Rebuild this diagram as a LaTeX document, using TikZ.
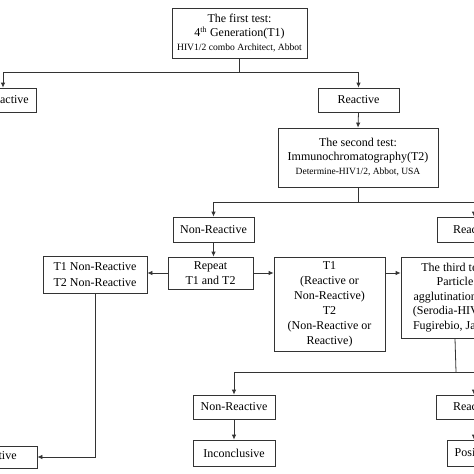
\documentclass[tikz,border=0pt]{standalone}
\usepackage{fontspec}
\setmainfont{Liberation Serif}
\usetikzlibrary{arrows.meta}
\begin{document}
\begin{tikzpicture}[x=1pt,y=-1pt,
  box/.style={draw=black!80, line width=0.8pt, inner sep=0pt, align=center, font=\fontsize{12}{14}\selectfont},
  arr/.style={draw=black!80, line width=0.8pt, -{Latex[length=5pt,width=4.5pt]}},
  ln/.style={draw=black!80, line width=0.8pt}]
\useasboundingbox (0,0) rectangle (474,474);
\clip (0,0) rectangle (474,474);
% nodes
\node[box, minimum width=135pt, minimum height=50pt] (t1) at (239.5,33)
  {The first test:\\4\textsuperscript{th} Generation(T1)\\{\fontsize{9.6}{12}\selectfont HIV1/2 combo Architect, Abbot}};
\node[box, minimum width=81pt, minimum height=24pt] (ltop) at (-4.5,100) {Non-Reactive};
\node[box, minimum width=81pt, minimum height=24pt] (re) at (358.5,100) {Reactive};
\node[box, minimum width=160pt, minimum height=59pt] (s2) at (358,157.5)
  {The second test:\\Immunochromatography(T2)\\{\fontsize{9.5}{12}\selectfont Determine-HIV1/2, Abbot, USA}};
\node[box, minimum width=81pt, minimum height=25pt] (nr1) at (213.5,229.5) {Non-Reactive};
\node[box, minimum width=74pt, minimum height=25pt] (rr1) at (474,229.5) {Reactive};
\node[box, minimum width=85pt, minimum height=32pt, font=\fontsize{12}{15.5}\selectfont] (rep) at (210.5,273) {Repeat\\T1 and T2};
\node[box, minimum width=104pt, minimum height=37pt, font=\fontsize{12}{16}\selectfont] (lm) at (95,274.5) {T1 Non-Reactive\\T2 Non-Reactive};
\node[box, minimum width=111pt, minimum height=94pt, font=\fontsize{12}{15}\selectfont] (mid) at (329.5,304)
  {T1\\(Reactive or\\Non-Reactive)\\T2\\(Non-Reactive or\\Reactive)};
\node[box, minimum width=108pt, minimum height=81pt, font=\fontsize{12}{14.5}\selectfont] (th) at (455,297.5)
  {The third test:\\Particle\\agglutination test\\(Serodia-HIV1/2,\\Fugirebio, Japan)};
\node[box, minimum width=82pt, minimum height=24pt] (nr2) at (234,407) {Non-Reactive};
\node[box, minimum width=76pt, minimum height=24pt] (rr2) at (474,407) {Reactive};
\node[box, minimum width=82pt, minimum height=26pt] (inc) at (234,453) {Inconclusive};
\node[box, minimum width=54pt, minimum height=26pt] (pos) at (474,453) {Positive};
\node[box, minimum width=84pt, minimum height=22pt] (lbot) at (-5,457) {Negative};
% connectors
\coordinate (j1) at (239.5,72);
\draw[ln] (t1.south) -- (j1);
\draw[arr] (j1) -| ([xshift=7.5pt]ltop.north);
\draw[arr] (j1) -| (re.north);
\draw[arr] (re.south) -- (s2.north);
\coordinate (j2) at (358,202);
\draw[ln] (s2.south) -- (j2);
\draw[arr] (j2) -| (nr1.north);
\draw[arr] (j2) -| (rr1.north);
\draw[arr] (nr1.south) -- (rep.north -| nr1.south);
\draw[arr] (rep.west) -- (rep.west -| lm.east);
\draw[arr] (rep.east) -- (rep.east -| mid.west);
\draw[arr] (rep.east -| mid.east) -- (rep.east -| th.west);
\draw[arr] (lm.south) |- (lbot.east);
\coordinate (j3) at (456,372);
\draw[ln] (th.south) -- (j3);
\draw[arr] (j3) -| (nr2.north);
\draw[arr] (j3) -| (rr2.north);
\draw[arr] (nr2.south) -- (inc.north);
\draw[arr] (rr2.south) -- (pos.north);
\end{tikzpicture}
\end{document}
